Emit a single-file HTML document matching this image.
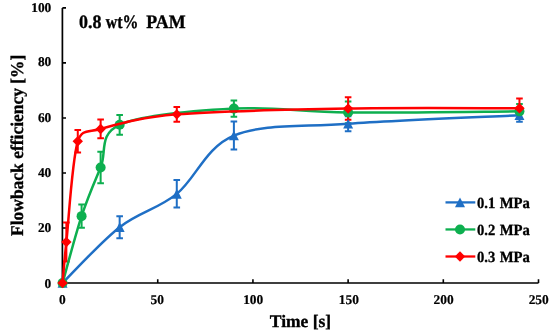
<!DOCTYPE html>
<html><head><meta charset="utf-8"><title>Flowback efficiency</title>
<style>html,body{margin:0;padding:0;background:#fff;overflow:hidden}svg{display:block}</style>
</head><body>
<svg width="550" height="335" viewBox="0 0 550 335">
<rect width="550" height="335" fill="#fff"/>
<path d="M62.40,7.90V283.00H538.50" stroke="#000" stroke-width="1.7" fill="none"/>
<path d="M62.40,283.00h3.6M62.40,227.98h3.6M62.40,172.96h3.6M62.40,117.94h3.6M62.40,62.92h3.6M62.40,7.90h3.6M157.74,283.00v-3.8M252.93,283.00v-3.8M348.12,283.00v-3.8M443.31,283.00v-3.8M538.50,283.00v-3.8" stroke="#000" stroke-width="1.6" fill="none"/>
<text x="51.3" y="287.60" font-family="'Liberation Serif', 'Times New Roman', serif" font-weight="bold" text-rendering="geometricPrecision" stroke="#000" font-size="13.4" stroke-width="0.2" text-anchor="end">0</text>
<text x="51.3" y="232.13" font-family="'Liberation Serif', 'Times New Roman', serif" font-weight="bold" text-rendering="geometricPrecision" stroke="#000" font-size="13.4" stroke-width="0.2" text-anchor="end">20</text>
<text x="51.3" y="176.56" font-family="'Liberation Serif', 'Times New Roman', serif" font-weight="bold" text-rendering="geometricPrecision" stroke="#000" font-size="13.4" stroke-width="0.2" text-anchor="end">40</text>
<text x="51.3" y="121.69" font-family="'Liberation Serif', 'Times New Roman', serif" font-weight="bold" text-rendering="geometricPrecision" stroke="#000" font-size="13.4" stroke-width="0.2" text-anchor="end">60</text>
<text x="51.3" y="66.37" font-family="'Liberation Serif', 'Times New Roman', serif" font-weight="bold" text-rendering="geometricPrecision" stroke="#000" font-size="13.4" stroke-width="0.2" text-anchor="end">80</text>
<text x="51.3" y="11.85" font-family="'Liberation Serif', 'Times New Roman', serif" font-weight="bold" text-rendering="geometricPrecision" stroke="#000" font-size="13.4" stroke-width="0.2" text-anchor="end">100</text>
<text x="62.35" y="303.6" font-family="'Liberation Serif', 'Times New Roman', serif" font-weight="bold" text-rendering="geometricPrecision" stroke="#000" font-size="13.4" stroke-width="0.2" text-anchor="middle">0</text>
<text x="157.24" y="303.6" font-family="'Liberation Serif', 'Times New Roman', serif" font-weight="bold" text-rendering="geometricPrecision" stroke="#000" font-size="13.4" stroke-width="0.2" text-anchor="middle">50</text>
<text x="253.23" y="303.6" font-family="'Liberation Serif', 'Times New Roman', serif" font-weight="bold" text-rendering="geometricPrecision" stroke="#000" font-size="13.4" stroke-width="0.2" text-anchor="middle">100</text>
<text x="348.82" y="303.6" font-family="'Liberation Serif', 'Times New Roman', serif" font-weight="bold" text-rendering="geometricPrecision" stroke="#000" font-size="13.4" stroke-width="0.2" text-anchor="middle">150</text>
<text x="443.61" y="303.6" font-family="'Liberation Serif', 'Times New Roman', serif" font-weight="bold" text-rendering="geometricPrecision" stroke="#000" font-size="13.4" stroke-width="0.2" text-anchor="middle">200</text>
<text x="538.70" y="303.6" font-family="'Liberation Serif', 'Times New Roman', serif" font-weight="bold" text-rendering="geometricPrecision" stroke="#000" font-size="13.4" stroke-width="0.2" text-anchor="middle">250</text>
<text x="300.5" y="326.6" font-family="'Liberation Serif', 'Times New Roman', serif" font-weight="bold" text-rendering="geometricPrecision" stroke="#000" stroke-width="0.35" font-size="17.5" text-anchor="middle">Time [s]</text>
<text transform="translate(22.6,145.3) rotate(-90)" x="0" y="0" font-family="'Liberation Serif', 'Times New Roman', serif" font-weight="bold" text-rendering="geometricPrecision" stroke="#000" stroke-width="0.35" font-size="17.9" textLength="181.3" lengthAdjust="spacingAndGlyphs" text-anchor="middle">Flowback efficiency [%]</text>
<text y="28.1" font-family="'Liberation Serif', 'Times New Roman', serif" font-weight="bold" text-rendering="geometricPrecision" stroke="#000" stroke-width="0.35" font-size="19"><tspan x="79.0" textLength="22.4" lengthAdjust="spacingAndGlyphs">0.8</tspan> <tspan x="105.8" textLength="32.6" lengthAdjust="spacingAndGlyphs">wt%</tspan> <tspan x="146.2" textLength="39.4" lengthAdjust="spacingAndGlyphs">PAM</tspan></text>
<path d="M119.66,216.15V238.16M116.36,216.15h6.6M116.36,238.16h6.6" stroke="#1F6FC5" stroke-width="2" fill="none"/>
<path d="M176.78,180.11V207.62M173.48,180.11h6.6M173.48,207.62h6.6" stroke="#1F6FC5" stroke-width="2" fill="none"/>
<path d="M233.89,121.52V149.58M230.59,121.52h6.6M230.59,149.58h6.6" stroke="#1F6FC5" stroke-width="2" fill="none"/>
<path d="M348.12,116.29V131.14M344.82,116.29h6.6M344.82,131.14h6.6" stroke="#1F6FC5" stroke-width="2" fill="none"/>
<path d="M519.46,108.59V121.79M516.16,108.59h6.6M516.16,121.79h6.6" stroke="#1F6FC5" stroke-width="2" fill="none"/>
<path d="M81.59,204.60V227.70M78.29,204.60h6.6M78.29,227.70h6.6" stroke="#0DAF4F" stroke-width="2" fill="none"/>
<path d="M100.63,151.78V183.14M97.33,151.78h6.6M97.33,183.14h6.6" stroke="#0DAF4F" stroke-width="2" fill="none"/>
<path d="M119.66,114.91V134.72M116.36,114.91h6.6M116.36,134.72h6.6" stroke="#0DAF4F" stroke-width="2" fill="none"/>
<path d="M233.89,100.47V116.70M230.59,100.47h6.6M230.59,116.70h6.6" stroke="#0DAF4F" stroke-width="2" fill="none"/>
<path d="M348.12,101.57V123.30M344.82,101.57h6.6M344.82,123.30h6.6" stroke="#0DAF4F" stroke-width="2" fill="none"/>
<path d="M519.46,104.05V118.63M516.16,104.05h6.6M516.16,118.63h6.6" stroke="#0DAF4F" stroke-width="2" fill="none"/>
<path d="M66.36,222.48V261.54M63.06,222.48h6.6M63.06,261.54h6.6" stroke="#FF0000" stroke-width="2" fill="none"/>
<path d="M77.78,130.04V152.60M74.48,130.04h6.6M74.48,152.60h6.6" stroke="#FF0000" stroke-width="2" fill="none"/>
<path d="M100.63,119.59V138.30M97.33,119.59h6.6M97.33,138.30h6.6" stroke="#FF0000" stroke-width="2" fill="none"/>
<path d="M176.78,106.94V121.79M173.48,106.94h6.6M173.48,121.79h6.6" stroke="#FF0000" stroke-width="2" fill="none"/>
<path d="M348.12,97.31V119.87M344.82,97.31h6.6M344.82,119.87h6.6" stroke="#FF0000" stroke-width="2" fill="none"/>
<path d="M519.46,98.41V118.22M516.16,98.41h6.6M516.16,118.22h6.6" stroke="#FF0000" stroke-width="2" fill="none"/>
<path d="M62.55,283.00 C72.07,273.69 100.63,242.01 119.66,227.15 C138.70,212.30 157.74,209.14 176.78,193.87 C195.82,178.60 205.33,147.24 233.89,135.55 C262.45,123.85 300.52,127.11 348.12,123.72 C395.72,120.32 490.90,116.61 519.46,115.19" stroke="#1F6FC5" stroke-width="2.5" fill="none" stroke-linejoin="round"/>
<path d="M62.55,278.20L67.55,287.80L57.55,287.80Z" fill="#1F6FC5"/>
<path d="M119.66,222.35L124.66,231.95L114.66,231.95Z" fill="#1F6FC5"/>
<path d="M176.78,189.07L181.78,198.67L171.78,198.67Z" fill="#1F6FC5"/>
<path d="M233.89,130.75L238.89,140.35L228.89,140.35Z" fill="#1F6FC5"/>
<path d="M348.12,118.92L353.12,128.52L343.12,128.52Z" fill="#1F6FC5"/>
<path d="M519.46,110.39L524.46,119.99L514.46,119.99Z" fill="#1F6FC5"/>
<path d="M62.55,283.00 C65.72,271.86 75.24,235.41 81.59,216.15 C87.93,196.89 94.28,182.68 100.63,167.46 C106.97,152.24 98.31,134.25 119.66,124.82 C141.88,115.01 195.82,110.65 233.89,108.59 C271.97,106.52 300.52,111.98 348.12,112.44 C395.72,112.90 490.90,111.52 519.46,111.34" stroke="#0DAF4F" stroke-width="2.5" fill="none" stroke-linejoin="round"/>
<circle cx="62.55" cy="283.00" r="5" fill="#0DAF4F"/>
<circle cx="81.59" cy="216.15" r="5" fill="#0DAF4F"/>
<circle cx="100.63" cy="167.46" r="5" fill="#0DAF4F"/>
<circle cx="119.66" cy="124.82" r="5" fill="#0DAF4F"/>
<circle cx="233.89" cy="108.59" r="5" fill="#0DAF4F"/>
<circle cx="348.12" cy="112.44" r="5" fill="#0DAF4F"/>
<circle cx="519.46" cy="111.34" r="5" fill="#0DAF4F"/>
<path d="M62.55,283.00 C63.18,276.17 64.16,262.48 66.36,242.01 C68.90,218.40 72.07,160.17 77.78,141.32 C81.55,128.89 88.09,132.36 100.63,128.94 C117.13,124.45 138.14,117.54 176.78,114.36 C218.03,110.97 291.01,109.60 348.12,108.59 C405.23,107.58 490.90,108.36 519.46,108.31" stroke="#FF0000" stroke-width="2.5" fill="none" stroke-linejoin="round"/>
<path d="M62.55,277.80L67.75,283.00L62.55,288.20L57.35,283.00Z" fill="#FF0000"/>
<path d="M66.36,236.81L71.56,242.01L66.36,247.21L61.16,242.01Z" fill="#FF0000"/>
<path d="M77.78,136.12L82.98,141.32L77.78,146.52L72.58,141.32Z" fill="#FF0000"/>
<path d="M100.63,123.74L105.83,128.94L100.63,134.14L95.43,128.94Z" fill="#FF0000"/>
<path d="M176.78,109.16L181.98,114.36L176.78,119.56L171.58,114.36Z" fill="#FF0000"/>
<path d="M348.12,103.39L353.32,108.59L348.12,113.79L342.92,108.59Z" fill="#FF0000"/>
<path d="M519.46,103.11L524.66,108.31L519.46,113.51L514.26,108.31Z" fill="#FF0000"/>
<path d="M445.5,202.40H475.3" stroke="#1F6FC5" stroke-width="2.3"/>
<path d="M460.00,197.60L465.00,207.20L455.00,207.20Z" fill="#1F6FC5"/>
<text y="208.00" font-family="'Liberation Serif', 'Times New Roman', serif" font-weight="bold" text-rendering="geometricPrecision" stroke="#000" stroke-width="0.3" font-size="15.5"><tspan x="477" textLength="18.3" lengthAdjust="spacingAndGlyphs">0.1</tspan> <tspan x="499.7" textLength="30.2" lengthAdjust="spacingAndGlyphs">MPa</tspan></text>
<path d="M445.5,229.45H475.3" stroke="#0DAF4F" stroke-width="2.3"/>
<circle cx="460.00" cy="229.45" r="5" fill="#0DAF4F"/>
<text y="235.05" font-family="'Liberation Serif', 'Times New Roman', serif" font-weight="bold" text-rendering="geometricPrecision" stroke="#000" stroke-width="0.3" font-size="15.5"><tspan x="477" textLength="18.3" lengthAdjust="spacingAndGlyphs">0.2</tspan> <tspan x="499.7" textLength="30.2" lengthAdjust="spacingAndGlyphs">MPa</tspan></text>
<path d="M445.5,256.50H475.3" stroke="#FF0000" stroke-width="2.3"/>
<path d="M460.00,251.30L465.20,256.50L460.00,261.70L454.80,256.50Z" fill="#FF0000"/>
<text y="262.10" font-family="'Liberation Serif', 'Times New Roman', serif" font-weight="bold" text-rendering="geometricPrecision" stroke="#000" stroke-width="0.3" font-size="15.5"><tspan x="477" textLength="18.3" lengthAdjust="spacingAndGlyphs">0.3</tspan> <tspan x="499.7" textLength="30.2" lengthAdjust="spacingAndGlyphs">MPa</tspan></text>
</svg>
</body></html>
